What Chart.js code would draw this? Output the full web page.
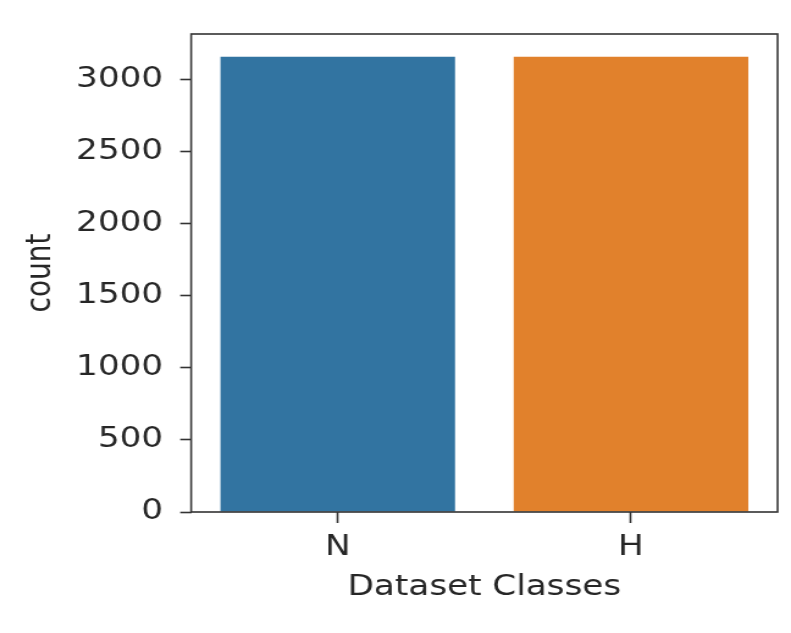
<!DOCTYPE html>
<html>
<head>
<meta charset="utf-8">
<script src="https://cdn.jsdelivr.net/npm/chart.js@4/dist/chart.umd.min.js"></script>
<style>
    html, body { margin: 0; padding: 0; background: #fff; }
    /* the reference is stretched sideways, so the canvas is drawn narrow and widened by css */
    #countChart { display: block; width: 791px; height: 633px; }
</style>
</head>
<body>
<canvas id="countChart" width="648" height="633" style="width:791px;height:633px"></canvas>
<script>
const classLabels = ["N", "H"];
const classCounts = [3160, 3160];
const barColors = ["#3274a1", "#e1812c"];
const yTickValues = [0, 500, 1000, 1500, 2000, 2500, 3000];
const yMax = 3318;

const textColor = "#262626";
const lineColor = "#333";

// box round the plot, like matplotlib's spines
const frame = {
    id: "frame",
    afterDraw(chart) {
        const a = chart.chartArea;
        const c = chart.ctx;
        c.save();
        c.strokeStyle = lineColor;
        c.lineWidth = 1.6;
        c.strokeRect(a.left, a.top, a.right - a.left, a.bottom - a.top);
        c.restore();
    }
};

const ctx = document.getElementById("countChart").getContext("2d");
new Chart(ctx, {
    type: "bar",
    data: {
        labels: classLabels,
        datasets: [{
            data: classCounts,
            backgroundColor: barColors,
            borderWidth: 0,
            barPercentage: 0.8,
            categoryPercentage: 1.0
        }]
    },
    options: {
        responsive: false,
        animation: false,
        layout: { padding: { top: 34, right: 11, left: 17, bottom: 28 } },
        plugins: {
            legend: { display: false },
            tooltip: { enabled: false }
        },
        scales: {
            x: {
                offset: true,
                grid: { offset: false, drawOnChartArea: false, tickLength: 11, color: lineColor, tickWidth: 1.6 },
                border: { display: false },
                ticks: { color: textColor, font: { family: "DejaVu Sans", size: 28 }, padding: 8 },
                title: {
                    display: true,
                    text: "Dataset Classes",
                    color: textColor,
                    font: { family: "DejaVu Sans", size: 28 },
                    padding: { top: 0, bottom: 0 }
                },
                afterFit(scale) { scale.height = 93; }
            },
            y: {
                min: 0,
                max: yMax,
                grid: { drawOnChartArea: false, tickLength: 9, color: lineColor, tickWidth: 1.6 },
                border: { display: false },
                ticks: {
                    color: textColor,
                    font: { family: "DejaVu Sans", size: 28 },
                    padding: 14,
                    callback: (v) => String(v)
                },
                afterBuildTicks(scale) {
                    scale.ticks = yTickValues.map(v => ({ value: v }));
                },
                title: {
                    display: true,
                    text: "count",
                    color: textColor,
                    font: { family: "DejaVu Sans", size: 28 },
                    padding: { top: 0, bottom: 0 }
                },
                afterFit(scale) { scale.width = 139.6; }
            }
        }
    },
    plugins: [frame]
});
</script>
</body>
</html>
